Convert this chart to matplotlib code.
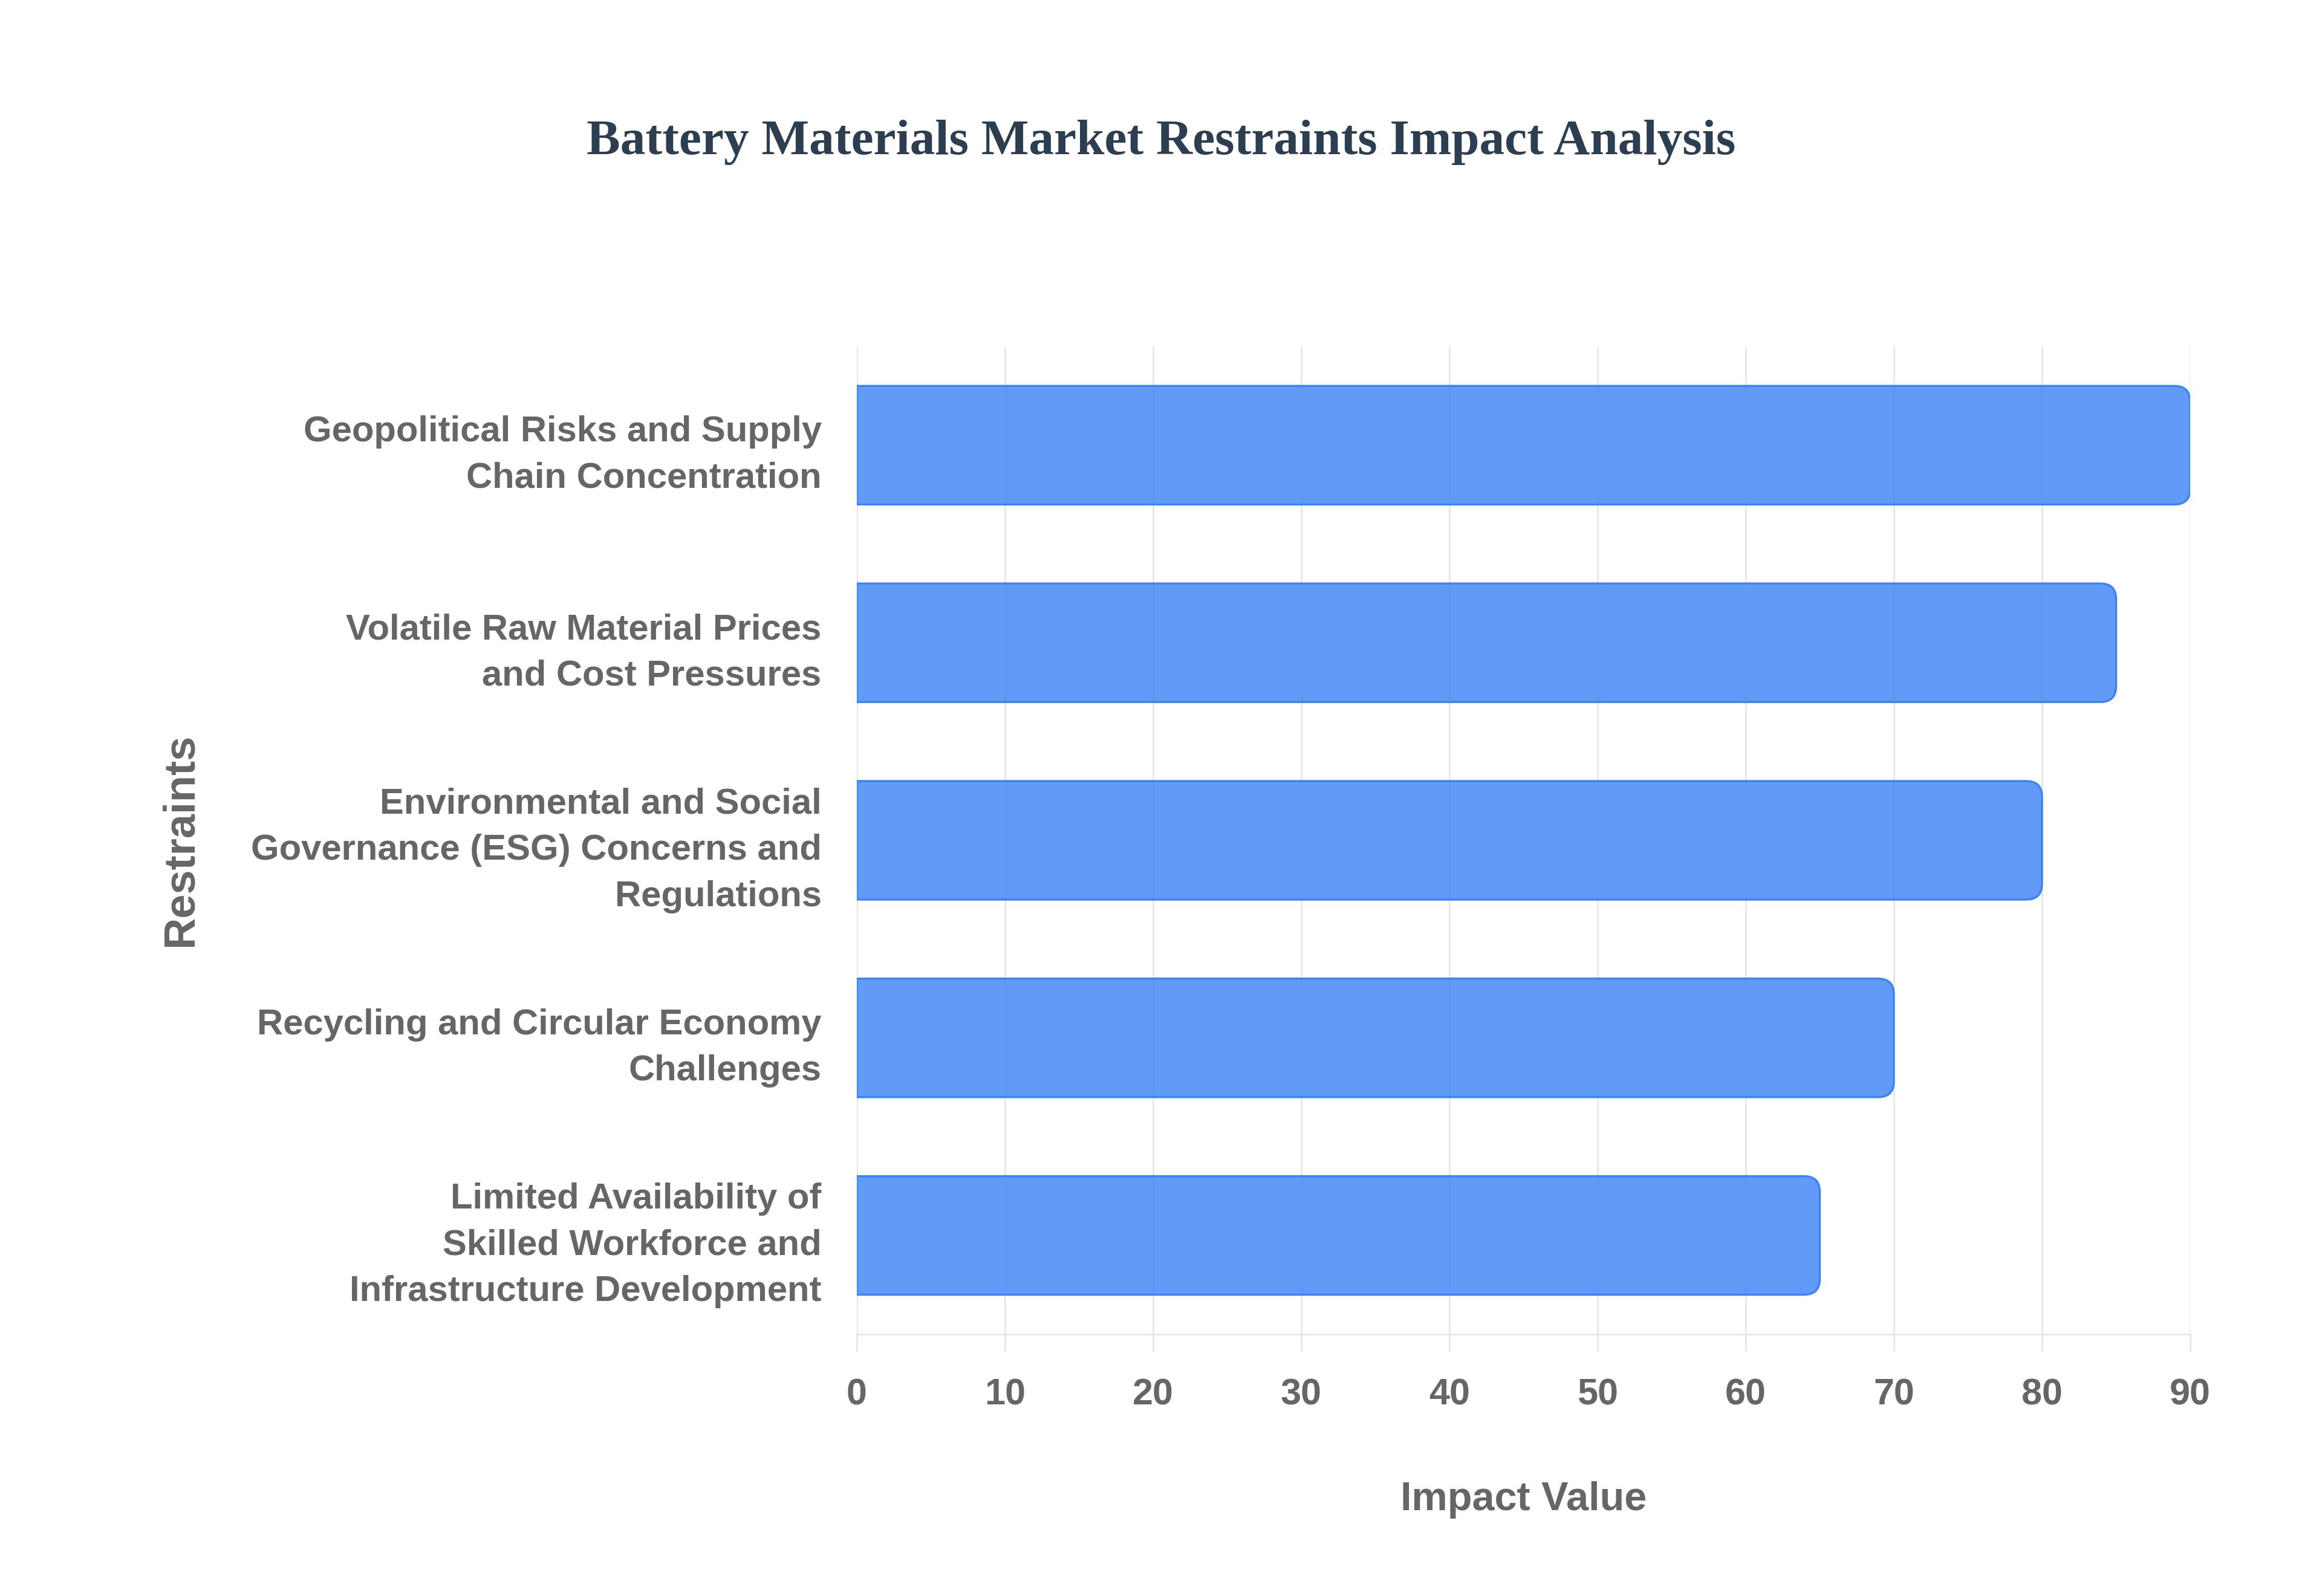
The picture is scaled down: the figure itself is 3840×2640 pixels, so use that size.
import matplotlib
matplotlib.use('Agg')
import matplotlib.pyplot as plt
from matplotlib.path import Path
from matplotlib.patches import PathPatch
import matplotlib.font_manager as fm

# Datos del grafico
restricciones = [
    'Geopolitical Risks and Supply\nChain Concentration',
    'Volatile Raw Material Prices\nand Cost Pressures',
    'Environmental and Social\nGovernance (ESG) Concerns and\nRegulations',
    'Recycling and Circular Economy\nChallenges',
    'Limited Availability of\nSkilled Workforce and\nInfrastructure Development',
]
impacto = [90, 85, 80, 70, 65]

titulo = 'Battery Materials Market Restraints Impact Analysis'
etiqueta_x = 'Impact Value'
etiqueta_y = 'Restraints'
ticks_x = [0, 10, 20, 30, 40, 50, 60, 70, 80, 90]

# fuentes
nombres = {f.name for f in fm.fontManager.ttflist}
sans = [n for n in ['Liberation Sans Narrow', 'Liberation Sans', 'DejaVu Sans'] if n in nombres]
serif = [n for n in ['Liberation Serif', 'DejaVu Serif'] if n in nombres]

gris_texto = '#666666'
gris_grid = '#e6e6e6'
azul = '#3b82f6'

W, H = 3840, 2640
fig = plt.figure(figsize=(W / 200, H / 200), dpi=200)
ax = fig.add_axes([1417 / W, 1 - 2207 / H, (3622 - 1417) / W, (2207 - 573) / H])

pos = list(range(len(impacto)))[::-1]
ax.set_xlim(0, 90)
ax.set_ylim(-0.5, len(impacto) - 0.5)

barras = ax.barh(pos, impacto, height=0.6)

# barras con esquinas redondeadas solo a la derecha
radio = 26
trans = ax.transData
for barra in barras:
    x0, y0 = barra.get_x(), barra.get_y()
    x1, y1 = x0 + barra.get_width(), y0 + barra.get_height()
    (px0, py0), (px1, py1) = trans.transform([(x0, y0), (x1, y1)])
    ylo, yhi = min(py0, py1), max(py0, py1)
    verts = [(px0, ylo), (px1 - radio, ylo), (px1, ylo), (px1, ylo + radio),
             (px1, yhi - radio), (px1, yhi), (px1 - radio, yhi), (px0, yhi), (px0, ylo)]
    codes = [Path.MOVETO, Path.LINETO, Path.CURVE3, Path.CURVE3, Path.LINETO,
             Path.CURVE3, Path.CURVE3, Path.LINETO, Path.CLOSEPOLY]
    verts_data = trans.inverted().transform(verts)
    ax.add_patch(PathPatch(Path(verts_data, codes), facecolor=(59/255, 130/255, 246/255, 0.8),
                           edgecolor=azul, linewidth=1.2, zorder=3))
    barra.remove()

ax.set_xticks(ticks_x)
ax.set_yticks(pos)
ax.set_yticklabels(restricciones, family=sans, fontsize=21.5, fontweight='bold',
                   color=gris_texto, ha='right', multialignment='right', linespacing=1.5)
for lbl in ax.get_xticklabels():
    lbl.set_family(sans)
    lbl.set_fontsize(22)
    lbl.set_fontweight('bold')
    lbl.set_color(gris_texto)

ax.tick_params(axis='x', length=10, width=1, color=gris_grid, pad=16)
ax.tick_params(axis='y', length=0, pad=21)
ax.grid(axis='x', color=gris_grid, linewidth=1)
ax.set_axisbelow(True)
for lado in ['top', 'right', 'left']:
    ax.spines[lado].set_visible(False)
ax.spines['bottom'].set_color(gris_grid)
ax.spines['bottom'].set_linewidth(1)

ax.set_xlabel(etiqueta_x, family=sans, fontsize=24, fontweight='bold',
              color=gris_texto, labelpad=41)
fig.text(299 / W, 1 - 1389 / H, etiqueta_y, rotation=90, ha='center', va='center',
         family=sans, fontsize=26, fontweight='bold', color=gris_texto)

fig.text(0.5, 1 - 255 / H, titulo, ha='center', va='baseline', family=serif,
         fontsize=30, fontweight='bold', color='#2c3e50')

fig.savefig('out.png', dpi=200, facecolor='white')
